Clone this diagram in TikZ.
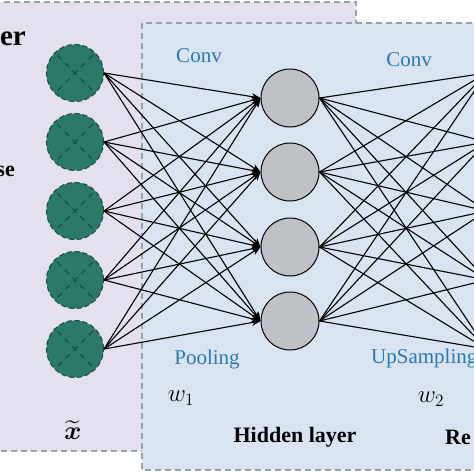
\documentclass[tikz,border=0pt]{standalone}
\usepackage{amsmath}
\usepackage{fontspec}
\setmainfont{Liberation Serif}
\usetikzlibrary{arrows.meta}
\definecolor{PanelLilac}{RGB}{229,224,238}
\definecolor{PanelBlue}{RGB}{218,228,240}
\definecolor{PanelEdge}{RGB}{150,162,178}
\definecolor{NoisyGreen}{RGB}{43,122,104}
\definecolor{NoisyDark}{RGB}{28,78,66}
\definecolor{HiddenGray}{RGB}{190,193,197}
\definecolor{OpBlue}{RGB}{42,120,184}

\tikzset{
  panel/.style={draw=PanelEdge, dash pattern=on 6pt off 4pt, line width=1.4pt},
  noisy/.style={circle, minimum size=57pt, inner sep=0pt, fill=NoisyGreen,
    draw=NoisyDark, dash pattern=on 5pt off 3pt, line width=1.1pt},
  noisecross/.style={NoisyDark, dash pattern=on 6pt off 5pt, line width=1.1pt},
  unit/.style={circle, minimum size=58pt, inner sep=0pt, fill=HiddenGray,
    draw=black, line width=1pt},
  link/.style={black, line width=1.1pt, -{Stealth[length=9pt, width=7pt]}},
  opname/.style={text=OpBlue, inner sep=0pt, font=\fontsize{21}{24}\selectfont},
  layername/.style={inner sep=0pt, font=\fontsize{22}{25}\selectfont\bfseries},
  weightname/.style={inner sep=0pt, font=\fontsize{20.74}{24}\selectfont},
}

\begin{document}
\begin{tikzpicture}[x=1pt, y=-1pt]
    \useasboundingbox (0,0) rectangle (474,474);
    \clip (0,0) rectangle (474,474);

    % Panels
    \filldraw[panel, fill=PanelLilac] (-10,2) rectangle (356,451);
    \filldraw[panel, fill=PanelBlue] (142,23) rectangle (490,470);

    % Noisy input layer
    \foreach \i/\y in {1/73, 2/142, 3/211, 4/280, 5/349} {
        \node[noisy] (in\i) at (75,\y) {};
        \draw[noisecross] ([shift={(-18,-18)}]in\i.center) -- ([shift={(18,18)}]in\i.center);
        \draw[noisecross] ([shift={(18,-18)}]in\i.center) -- ([shift={(-18,18)}]in\i.center);
    }

    % Hidden layer
    \foreach \j/\y in {1/98, 2/172, 3/247, 4/321}
        \node[unit] (hid\j) at (290,\y) {};

    % Reconstruction layer (outside the frame)
    \foreach \k/\y in {1/73, 2/142, 3/211, 4/280, 5/349}
        \node[unit] (out\k) at (516,\y) {};

    % Weights
    \foreach \i in {1,...,5}
        \foreach \j in {1,...,4}
            \draw[link] (in\i.east) -- (hid\j.west);
    \foreach \j in {1,...,4}
        \foreach \k in {1,...,5}
            \draw[link] (hid\j.east) -- (out\k.west);

    % Operations
    \node[opname] (conv1) at (199,56) {Conv};
    \node[opname] (conv2) at (409,60) {Conv};
    \node[opname] (pool) at (207,359) {Pooling};
    \node[opname, anchor=west] (upsamp) at (371,358) {UpSampling};
    \node[weightname] (w1) at (181,398) {\scalebox{1.2}{$w_1$}};
    \node[weightname] (w2) at (431,399) {\scalebox{1.2}{$w_2$}};

    % Layer names
    \node[layername, anchor=east, font=\fontsize{29}{32}\selectfont\bfseries] (inname) at (26,39) {er};
    \node[layername, anchor=east] (noisename) at (15,171) {se};
    \node[weightname] (xt) at (73,430) {\scalebox{1.25}{$\widetilde{\boldsymbol{x}}$}};
    \node[layername] (hidname) at (295,437) {Hidden layer};
    \node[layername, anchor=west] (outname) at (445,437) {Re};
\end{tikzpicture}
\end{document}
